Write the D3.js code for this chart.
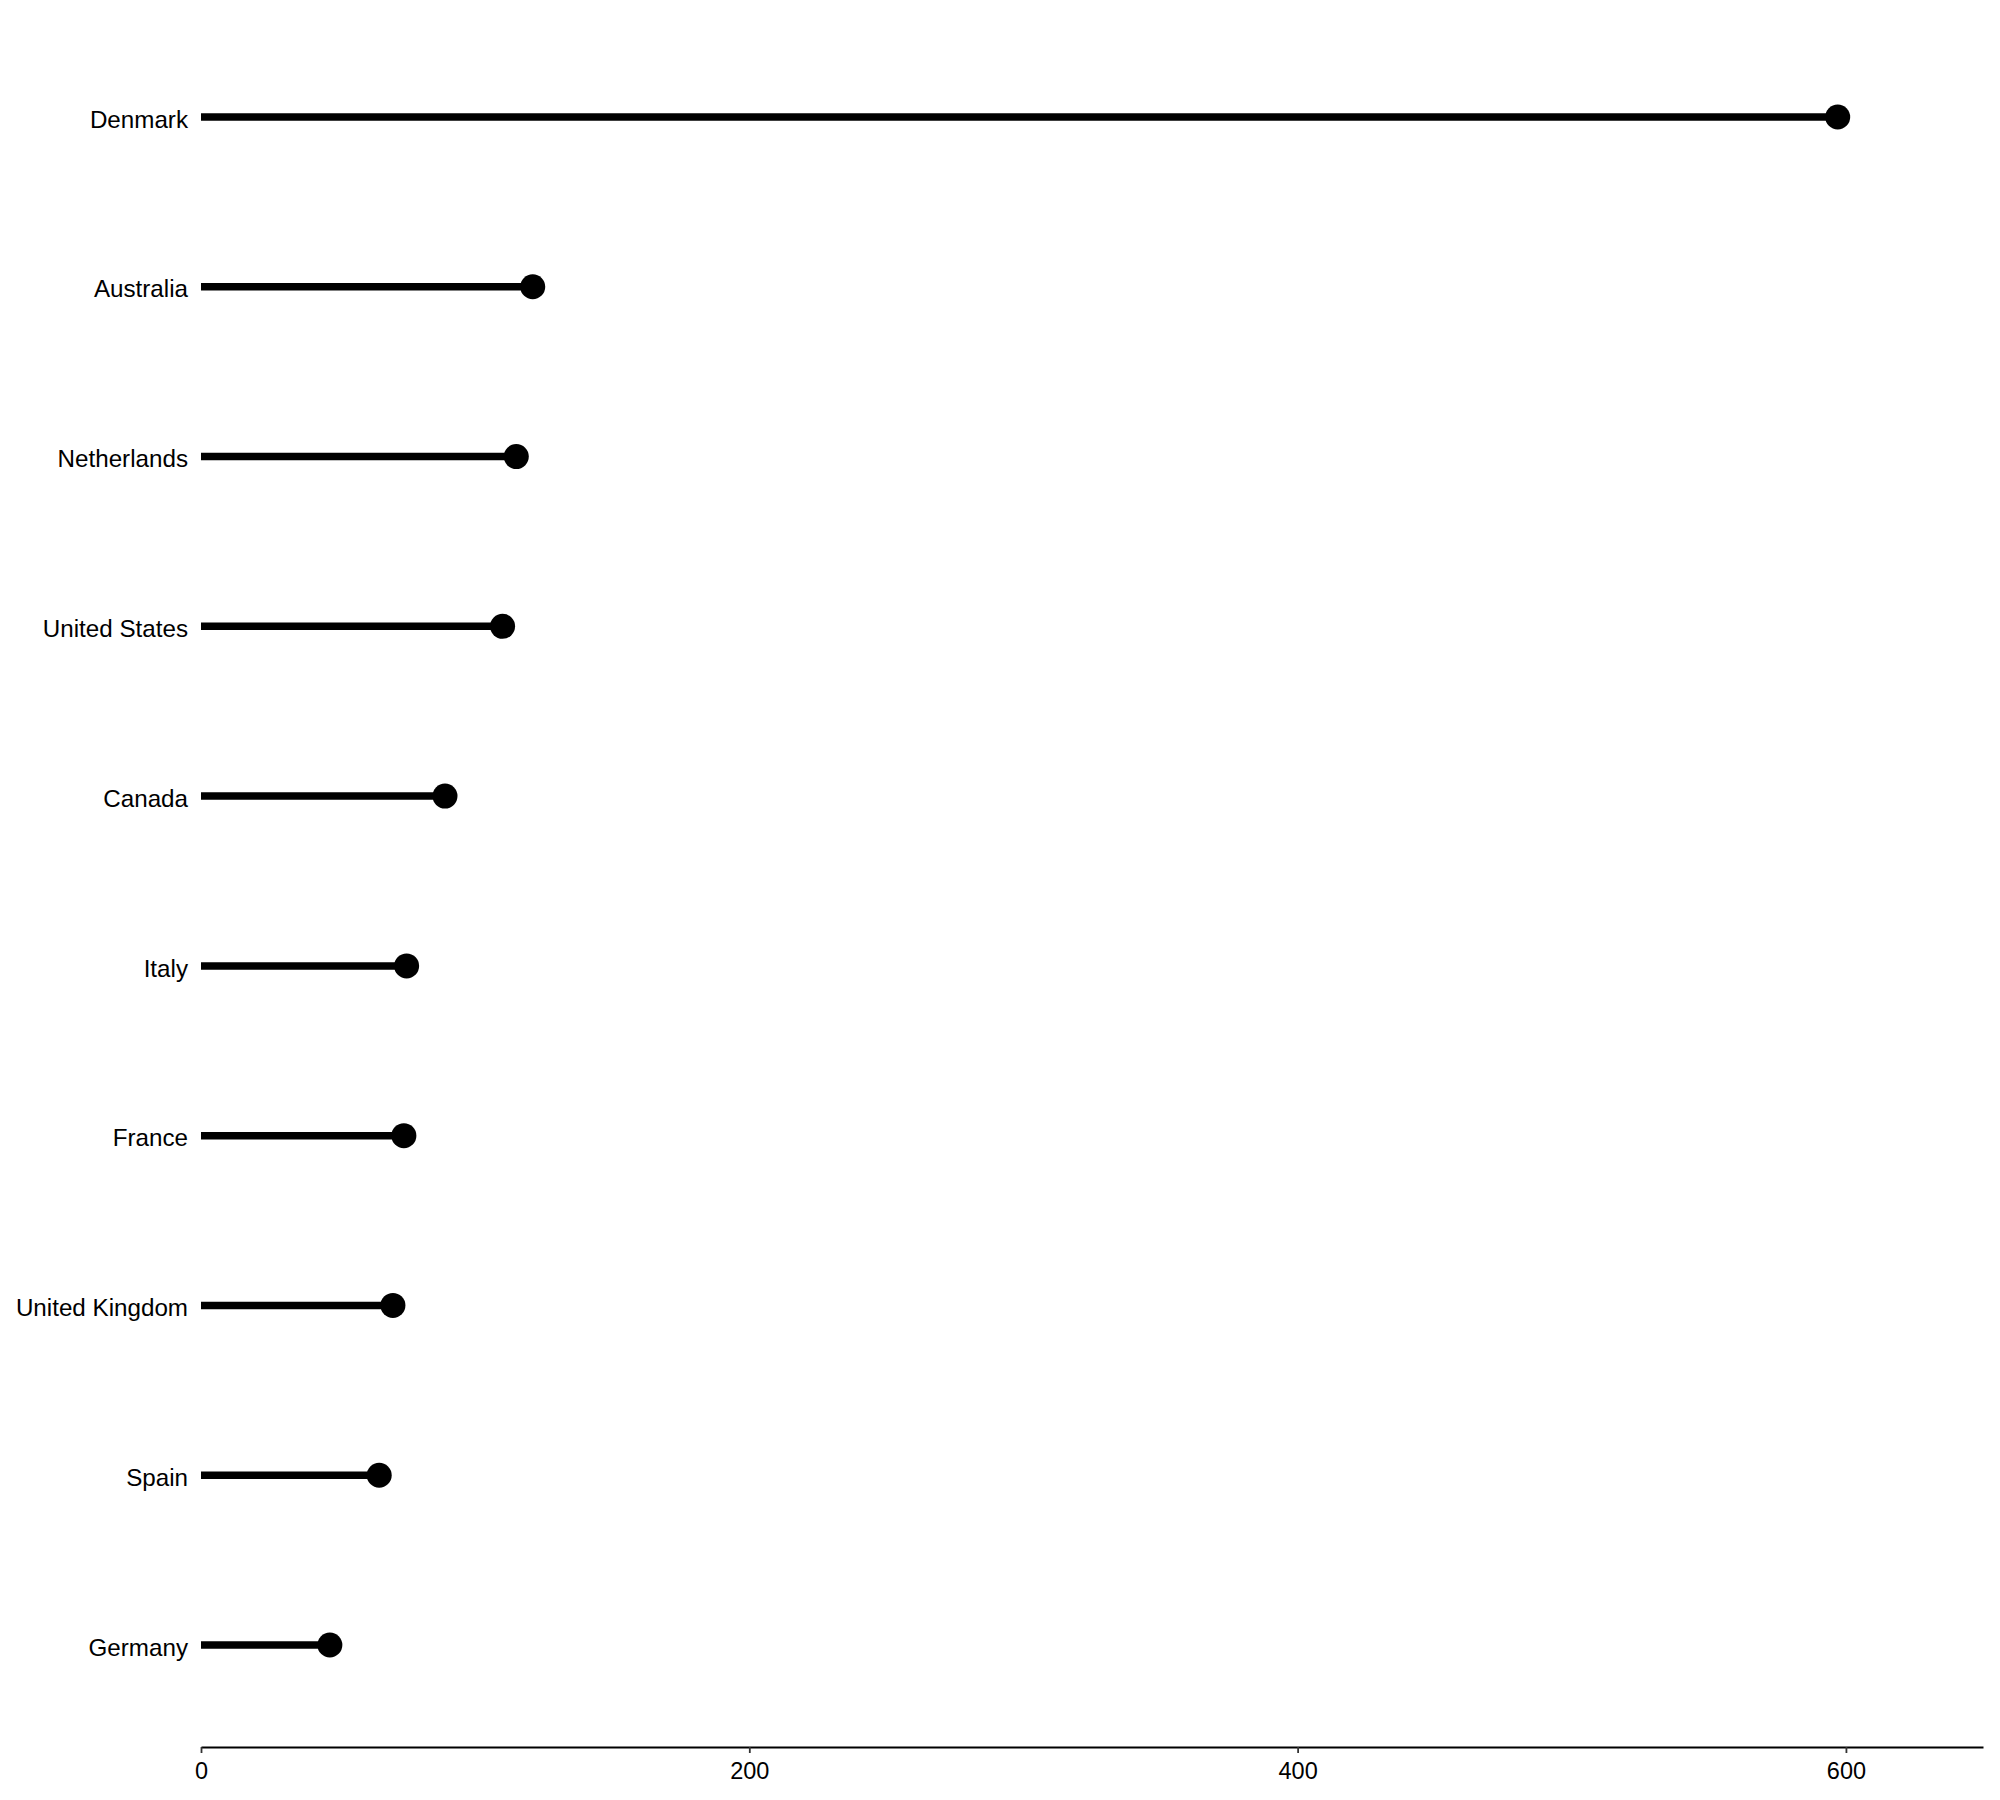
<!DOCTYPE html>
<html>
<head>
<meta charset="utf-8">
<script src="https://cdn.jsdelivr.net/npm/d3@7"></script>
<style>
  body { margin: 0; background: #fff; }
  text { font-family: "Liberation Sans", Arial, sans-serif; fill: #000; }
</style>
</head>
<body>
<div id="chart"></div>
<script>
// Chart data (top row first)
var countries = ["Denmark", "Australia", "Netherlands", "United States", "Canada",
                 "Italy", "France", "United Kingdom", "Spain", "Germany"];
var values = [597, 121, 115, 110, 89, 75, 74, 70, 65, 47];
var xTicks = [0, 200, 400, 600];

var svgWidth = 2000;
var svgHeight = 1800;

var svg = d3.select("#chart")
    .append("svg")
    .attr("width", svgWidth)
    .attr("height", svgHeight);

svg.append("rect")
    .attr("width", svgWidth)
    .attr("height", svgHeight)
    .attr("fill", "#fff");

// Scales
var x = d3.scaleLinear()
    .domain([0, 650])
    .range([201, 1983]);

var y = d3.scalePoint()
    .domain(countries)
    .range([117, 1645]);

var rows = countries.map(function (c, i) {
    return { country: c, value: values[i] };
});

// Bottom axis
var xAxis = svg.append("g")
    .attr("transform", "translate(0, 1747)")
    .call(d3.axisBottom(x).tickValues(xTicks).tickSize(6).tickSizeOuter(0).tickPadding(9));

xAxis.select(".domain")
    .attr("stroke", "#000")
    .attr("stroke-width", 1.8);
xAxis.selectAll(".tick line")
    .attr("stroke", "#333")
    .attr("stroke-width", 1.8);
xAxis.selectAll(".tick text")
    .attr("font-size", "23.5px")
    .attr("font-family", "Liberation Sans, Arial, sans-serif")
    .attr("fill", "#000");

// Left axis (labels only)
var yAxis = svg.append("g")
    .attr("transform", "translate(201, 0)")
    .call(d3.axisLeft(y).tickSize(0).tickPadding(13));

yAxis.select(".domain").remove();
yAxis.selectAll(".tick text")
    .attr("font-size", "24.2px")
    .attr("font-family", "Liberation Sans, Arial, sans-serif")
    .attr("fill", "#000")
    .attr("dy", "0.42em");

// Lollipop stems
svg.selectAll(".stem")
    .data(rows)
    .enter()
    .append("line")
    .attr("class", "stem")
    .attr("x1", x(0))
    .attr("x2", function (d) { return x(d.value); })
    .attr("y1", function (d) { return y(d.country); })
    .attr("y2", function (d) { return y(d.country); })
    .attr("stroke", "#000")
    .attr("stroke-width", 7.5);

// Lollipop heads
svg.selectAll(".head")
    .data(rows)
    .enter()
    .append("circle")
    .attr("class", "head")
    .attr("cx", function (d) { return x(d.value); })
    .attr("cy", function (d) { return y(d.country); })
    .attr("r", 12.5)
    .attr("fill", "#000");
</script>
</body>
</html>
